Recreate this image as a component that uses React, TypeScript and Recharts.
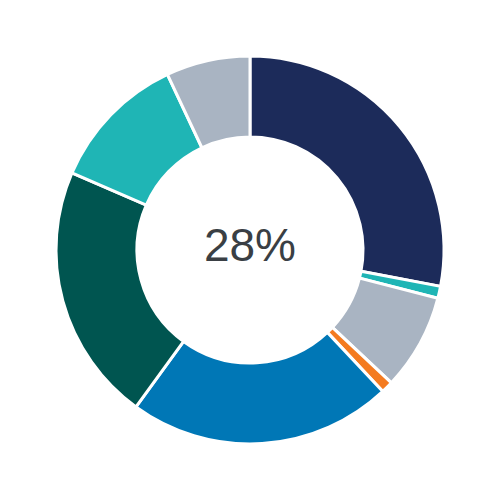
import { PieChart, Pie, Cell } from "recharts";

// segment shares, clockwise from 12 o'clock
const segmentNames = [
	"Navy",
	"Teal small",
	"Gray",
	"Orange",
	"Blue",
	"Dark teal",
	"Teal",
	"Gray top",
];
const segmentValues = [28, 1, 8, 1, 22, 21.5, 11.5, 7];
const segmentColors = [
	"#1c2b5a",
	"#1fb5b5",
	"#a9b4c2",
	"#f47b20",
	"#0077b6",
	"#005550",
	"#1fb5b5",
	"#a9b4c2",
];
const centerLabel = "28%";

const data = segmentNames.map((name, i) => ({ name, value: segmentValues[i] }));

export default function App() {
	return (
		<div
			style={{
				position: "absolute",
				left: 0,
				top: 0,
				width: 500,
				height: 500,
				background: "#fff",
			}}
		>
			<PieChart width={500} height={500} margin={{ top: 0, right: 0, bottom: 0, left: 0 }}>
				<Pie
					data={data}
					dataKey="value"
					nameKey="name"
					cx={250}
					cy={250}
					innerRadius={113}
					outerRadius={194}
					startAngle={90}
					endAngle={-270}
					stroke="#ffffff"
					strokeWidth={3}
					isAnimationActive={false}
				>
					{data.map((d, i) => (
						<Cell key={d.name} fill={segmentColors[i]} />
					))}
				</Pie>
				<text
					x={250}
					y={245}
					textAnchor="middle"
					dominantBaseline="central"
					fill="#3a3f44"
					style={{ fontFamily: "Liberation Sans, Arial, sans-serif", fontSize: 46 }}
				>
					{centerLabel}
				</text>
			</PieChart>
		</div>
	);
}
